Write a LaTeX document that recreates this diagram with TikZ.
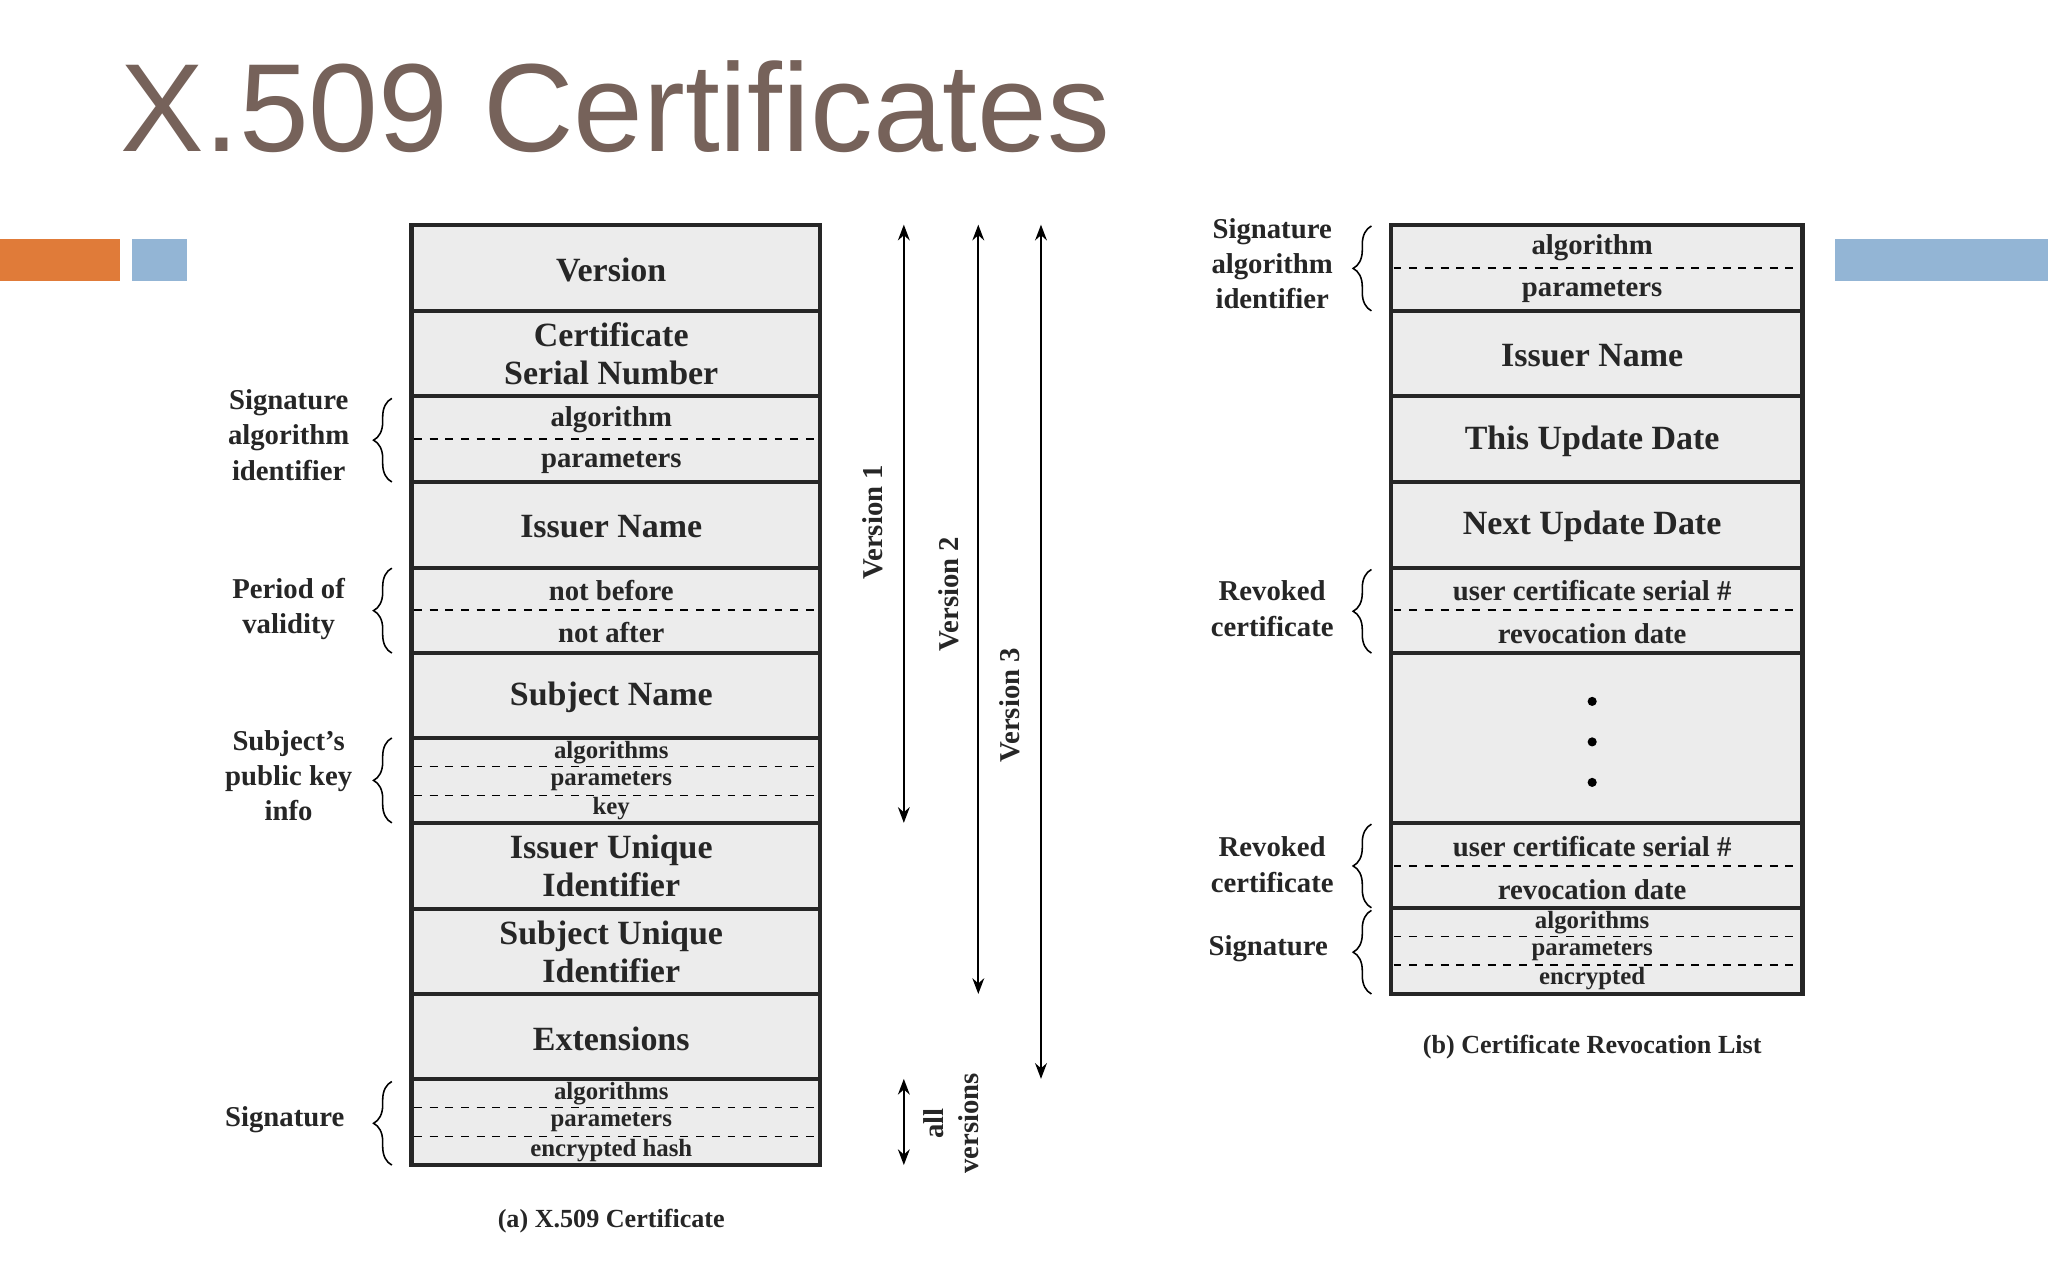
\documentclass[tikz,border=0pt]{standalone}
\usepackage{fontspec}
\setmainfont{Liberation Serif}
\newfontfamily\titlefont{Liberation Sans}
\usetikzlibrary{decorations.pathreplacing,arrows.meta}
\definecolor{cellgray}{HTML}{ECECEC}
\definecolor{titlebrown}{HTML}{76625A}
\definecolor{deco}{HTML}{E07B39}
\definecolor{decob}{HTML}{93B5D5}
\begin{document}
\begin{tikzpicture}[x=0.5pt,y=-0.5pt,
  cell/.style={draw=black!85,line width=1.6pt,fill=cellgray},
  dsh/.style={dashed,line width=0.6pt},
  big/.style={font=\bfseries\fontsize{13}{14.5}\selectfont,align=center,text=black!85},
  mid/.style={font=\bfseries\fontsize{11}{12}\selectfont,align=center,text=black!85},
  tiny/.style={font=\bfseries\fontsize{9.5}{10}\selectfont,text=black!85},
  lab/.style={font=\bfseries\fontsize{11}{13.5}\selectfont,align=center,text=black!85},
  brc/.style={decorate,decoration={brace,amplitude=7pt},line width=0.6pt},
  arr/.style={-{Stealth[length=6pt]},line width=0.9pt},
  darr/.style={{Stealth[length=6pt]}-{Stealth[length=6pt]},line width=0.9pt}]
\useasboundingbox (0,0) rectangle (1568,980);
\fill[white] (0,0) rectangle (1568,980);
\node[anchor=base west,inner sep=0,font=\titlefont\fontsize{48}{50}\selectfont,text=titlebrown] (title) at (92,116) {X.509 Certificates};
\fill[deco] (0,183) rectangle (92,215);
\fill[decob] (101,183) rectangle (143,215);
\fill[decob] (1405,183) rectangle (1568,215);
% left table
\foreach \a/\b in {172/238,238/303,303/369,369/435,435/500,500/565,565/630,630/696,696/761,761/826,826/892}
  \draw[cell] (315,\a) rectangle (628,\b);
\foreach \y in {336,467,587,609,848,870} \draw[dsh] (317,\y) -- (626,\y);
\node[big] (v) at (468,207) {Version};
\node[big] (csn) at (468,271) {Certificate\\Serial Number};
\node[mid] (a1) at (468,321) {algorithm};
\node[mid] (p1) at (468,354) {parameters};
\node[big] (iss) at (468,403) {Issuer Name};
\node[mid] (nb) at (468,452) {not before};
\node[mid] (na) at (468,484) {not after};
\node[big] (sn) at (468,534) {Subject Name};
\node[tiny] (k1) at (468,576) {algorithms};
\node[tiny] (k2) at (468,598) {parameters};
\node[tiny] (k3) at (468,619) {key};
\node[big] (iui) at (468,663) {Issuer Unique\\Identifier};
\node[big] (sui) at (468,729) {Subject Unique\\Identifier};
\node[big] (ext) at (468,795) {Extensions};
\node[tiny] (s1) at (468,837) {algorithms};
\node[tiny] (s2) at (468,859) {parameters};
\node[tiny] (s3) at (468,881) {encrypted hash};
% braces left
\coordinate (b1a) at (300,369); \coordinate (b1b) at (300,305);
\draw[brc] (b1a) -- (b1b);
\node[lab] (l1) at (221,333) {Signature\\algorithm\\identifier};
\coordinate (b2a) at (300,500); \coordinate (b2b) at (300,435);
\draw[brc] (b2a) -- (b2b);
\node[lab] (l2) at (221,466) {Period of\\validity};
\coordinate (b3a) at (300,630); \coordinate (b3b) at (300,565);
\draw[brc] (b3a) -- (b3b);
\node[lab] (l3) at (221,594) {Subject's\\public key\\info};
\coordinate (b4a) at (300,892); \coordinate (b4b) at (300,828);
\draw[brc] (b4a) -- (b4b);
\node[lab] (l4) at (218,857) {Signature};
% version arrows
\coordinate (v1t) at (692,172); \coordinate (v1b) at (692,630);
\draw[darr] (v1t) -- (v1b);
\node[lab,rotate=90] (v1) at (668,400) {Version 1};
\coordinate (v2t) at (749,172); \coordinate (v2b) at (749,761);
\draw[darr] (v2t) -- (v2b);
\node[lab,rotate=90] (v2) at (726,455) {Version 2};
\coordinate (v3t) at (797,172); \coordinate (v3b) at (797,826);
\draw[darr] (v3t) -- (v3b);
\node[lab,rotate=90] (v3) at (773,540) {Version 3};
\coordinate (avt) at (692,826); \coordinate (avb) at (692,892);
\draw[darr] (avt) -- (avb);
\node[lab,rotate=90] (av) at (728,860) {all\\versions};
\node[font=\bfseries\fontsize{10}{12}\selectfont,text=black!85] (capa) at (468,935) {(a) X.509 Certificate};
% right table
\foreach \a/\b in {172/238,238/303,303/369,369/435,435/500,500/630,630/695,695/761}
  \draw[cell] (1065,\a) rectangle (1380,\b);
\foreach \y in {205,467,663,717,739} \draw[dsh] (1067,\y) -- (1378,\y);
\node[mid] (ra) at (1219,190) {algorithm};
\node[mid] (rp) at (1219,223) {parameters};
\node[big] (ri) at (1219,272) {Issuer Name};
\node[big] (rt) at (1219,338) {This Update Date};
\node[big] (rn) at (1219,403) {Next Update Date};
\node[mid] (ru1) at (1219,452) {user certificate serial \#};
\node[mid] (rr1) at (1219,485) {revocation date};
\foreach \y in {537,568,599} \fill (1219,\y) circle (3.5);
\node[mid] (ru2) at (1219,648) {user certificate serial \#};
\node[mid] (rr2) at (1219,681) {revocation date};
\node[tiny] (rs1) at (1219,706) {algorithms};
\node[tiny] (rs2) at (1219,728) {parameters};
\node[tiny] (rs3) at (1219,749) {encrypted};
\coordinate (c1a) at (1050,238); \coordinate (c1b) at (1050,173);
\draw[brc] (c1a) -- (c1b);
\node[lab] (rl1) at (974,202) {Signature\\algorithm\\identifier};
\coordinate (c2a) at (1050,500); \coordinate (c2b) at (1050,436);
\draw[brc] (c2a) -- (c2b);
\node[lab] (rl2) at (974,466) {Revoked\\certificate};
\coordinate (c3a) at (1050,695); \coordinate (c3b) at (1050,631);
\draw[brc] (c3a) -- (c3b);
\node[lab] (rl3) at (974,662) {Revoked\\certificate};
\coordinate (c4a) at (1050,761); \coordinate (c4b) at (1050,697);
\draw[brc] (c4a) -- (c4b);
\node[lab] (rl4) at (971,726) {Signature};
\node[font=\bfseries\fontsize{10}{12}\selectfont,text=black!85] (capb) at (1219,802) {(b) Certificate Revocation List};
\end{tikzpicture}
\end{document}
